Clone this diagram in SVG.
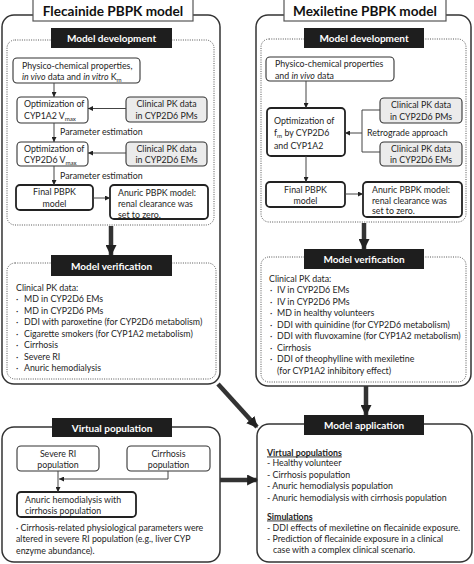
<svg xmlns="http://www.w3.org/2000/svg" width="474" height="564" viewBox="0 0 474 564">
<defs>
<style>
text{font-family:Lato,"Liberation Sans",sans-serif;fill:#1e1e1e;font-size:8.8px}
.title{font-size:13.6px;font-weight:bold;text-anchor:middle;fill:#111}
.hdr{font-size:10px;font-weight:bold;fill:#fff;text-anchor:middle}
.c{text-anchor:middle}
.outer{fill:#fff;stroke:#333;stroke-width:1.5}
.dot{fill:none;stroke:#555;stroke-width:1;stroke-dasharray:1 1.3}
.box{fill:#fff;stroke:#333;stroke-width:1.1}
.thick{fill:#fff;stroke:#222;stroke-width:1.8}
.gray{fill:#ebebeb;stroke:#333;stroke-width:1.1}
.hbox{fill:#1e1e1e}
.tbox{fill:#fff;stroke:#555;stroke-width:1.2}
.ln{fill:none;stroke:#444;stroke-width:1}
.big{fill:none;stroke:#333;stroke-width:4.5}
.bold{font-weight:bold}
</style>
<marker id="a" viewBox="0 0 10 10" refX="10" refY="5" markerWidth="5" markerHeight="5" markerUnits="userSpaceOnUse" orient="auto"><path d="M0,0 L10,5 L0,10 z" fill="#222"/></marker>
<marker id="b" viewBox="0 0 10 10" refX="9" refY="5" markerWidth="11" markerHeight="11" markerUnits="userSpaceOnUse" orient="auto"><path d="M0,0 L10,5 L0,10 z" fill="#222"/></marker>
</defs>
<rect width="474" height="564" fill="#fff"/>

<g id="flecainide-model">
<rect class="outer" x="2" y="15" width="218" height="369" rx="12"/>
<rect class="tbox" x="33" y="-1" width="160" height="22"/>
<text class="title" x="113" y="16">Flecainide PBPK model</text>
</g>

<g id="mexiletine-model">
<rect class="outer" x="256" y="15" width="215" height="371" rx="12"/>
<rect class="tbox" x="284" y="-1" width="162" height="22"/>
<text class="title" x="365" y="16">Mexiletine PBPK model</text>
</g>

<g id="flec-dev">
<rect class="dot" x="7" y="40" width="207" height="185" rx="8"/>
<rect class="hbox" x="51" y="28" width="121" height="20"/>
<text class="hdr" x="111.5" y="41.5">Model development</text>
</g>
<g id="flec-physico">
<rect class="box" x="13" y="58" width="127" height="25" rx="4"/>
<text x="22" y="68.5">Physico-chemical properties,</text>
<text x="22" y="80"><tspan font-style="italic">in vivo</tspan> data and <tspan font-style="italic">in vitro</tspan> K<tspan font-size="6.2" dy="2">m</tspan></text>
</g>
<g id="flec-opt1a2">
<rect class="box" x="17" y="97" width="71" height="26" rx="4"/>
<text x="24" y="107">Optimization of</text>
<text x="24" y="118.5">CYP1A2 V<tspan font-size="6.2" dy="2">max</tspan></text>
</g>
<g id="flec-pms">
<rect class="gray" x="126" y="97" width="81" height="25" rx="4"/>
<text class="c" x="166.5" y="107">Clinical PK data</text>
<text class="c" x="166.5" y="118.5">in CYP2D6 PMs</text>
</g>
<text x="60" y="135">Parameter estimation</text>
<g id="flec-opt2d6">
<rect class="box" x="17" y="142" width="71" height="24" rx="4"/>
<text x="24" y="151.5">Optimization of</text>
<text x="24" y="163">CYP2D6 V<tspan font-size="6.2" dy="2">max</tspan></text>
</g>
<g id="flec-ems">
<rect class="gray" x="126" y="142" width="81" height="24" rx="4"/>
<text class="c" x="166.5" y="151.5">Clinical PK data</text>
<text class="c" x="166.5" y="163">in CYP2D6 EMs</text>
</g>
<text x="60" y="179">Parameter estimation</text>
<g id="flec-final">
<rect class="thick" x="16" y="185" width="77" height="25" rx="4"/>
<text class="c" x="54.5" y="195">Final PBPK</text>
<text class="c" x="54.5" y="206.5">model</text>
</g>
<g id="flec-anuric">
<rect class="thick" x="110" y="185" width="98" height="34" rx="4"/>
<text x="118" y="195.5">Anuric PBPK model:</text>
<text x="118" y="206.5">renal clearance was</text>
<text x="118" y="217.5">set to zero.</text>
</g>

<g id="flec-verif">
<rect class="dot" x="7" y="263" width="209" height="116" rx="8"/>
<rect class="hbox" x="51" y="255" width="121" height="21"/>
<text class="hdr" x="111.5" y="269.5">Model verification</text>
<text x="16" y="290.5">Clinical PK data:</text>
<text x="16" y="302">· <tspan x="24">MD in CYP2D6 EMs</tspan></text>
<text x="16" y="313.5">· <tspan x="24">MD in CYP2D6 PMs</tspan></text>
<text x="16" y="325">· <tspan x="24">DDI with paroxetine (for CYP2D6 metabolism)</tspan></text>
<text x="16" y="336.5">· <tspan x="24">Cigarette smokers (for CYP1A2 metabolism)</tspan></text>
<text x="16" y="348">· <tspan x="24">Cirrhosis</tspan></text>
<text x="16" y="359.5">· <tspan x="24">Severe RI</tspan></text>
<text x="16" y="371">· <tspan x="24">Anuric hemodialysis</tspan></text>
</g>

<g id="mex-dev">
<rect class="dot" x="261" y="39" width="205" height="183" rx="8"/>
<rect class="hbox" x="304" y="28" width="120" height="20"/>
<text class="hdr" x="364" y="41.5">Model development</text>
</g>
<g id="mex-physico">
<rect class="box" x="266" y="57" width="128" height="24" rx="4"/>
<text x="275" y="67">Physico-chemical properties</text>
<text x="275" y="78.5">and <tspan font-style="italic">in vivo</tspan> data</text>
</g>
<g id="mex-opt">
<rect class="thick" x="267" y="108" width="78" height="48" rx="4"/>
<text x="274" y="123.5">Optimization of</text>
<text x="274" y="136">f<tspan font-size="6.2" dy="2">m</tspan><tspan dy="-2"> by CYP2D6</tspan></text>
<text x="274" y="148.5">and CYP1A2</text>
</g>
<g id="mex-pms">
<rect class="gray" x="380" y="98" width="82" height="25" rx="4"/>
<text class="c" x="421" y="108">Clinical PK data</text>
<text class="c" x="421" y="119.5">in CYP2D6 PMs</text>
</g>
<text x="367" y="136">Retrograde approach</text>
<g id="mex-ems">
<rect class="gray" x="380" y="142" width="82" height="24" rx="4"/>
<text class="c" x="421" y="151.5">Clinical PK data</text>
<text class="c" x="421" y="163">in CYP2D6 EMs</text>
</g>
<g id="mex-final">
<rect class="thick" x="266" y="182" width="79" height="25" rx="4"/>
<text class="c" x="305.5" y="192.5">Final PBPK</text>
<text class="c" x="305.5" y="204">model</text>
</g>
<g id="mex-anuric">
<rect class="thick" x="363" y="182" width="99" height="35" rx="4"/>
<text x="372" y="193">Anuric PBPK model:</text>
<text x="372" y="203.5">renal clearance was</text>
<text x="372" y="214">set to zero.</text>
</g>

<g id="mex-verif">
<rect class="dot" x="261" y="257" width="205" height="125" rx="8"/>
<rect class="hbox" x="304" y="249" width="120" height="20"/>
<text class="hdr" x="364" y="263">Model verification</text>
<text x="269" y="281.5">Clinical PK data:</text>
<text x="270" y="293">· <tspan x="277">IV in CYP2D6 EMs</tspan></text>
<text x="270" y="304.5">· <tspan x="277">IV in CYP2D6 PMs</tspan></text>
<text x="270" y="316">· <tspan x="277">MD in healthy volunteers</tspan></text>
<text x="270" y="327.5">· <tspan x="277">DDI with quinidine (for CYP2D6 metabolism)</tspan></text>
<text x="270" y="339">· <tspan x="277">DDI with fluvoxamine (for CYP1A2 metabolism)</tspan></text>
<text x="270" y="350.5">· <tspan x="277">Cirrhosis</tspan></text>
<text x="270" y="362">· <tspan x="277">DDI of theophylline with mexiletine</tspan></text>
<text x="277" y="373.5">(for CYP1A2 inhibitory effect)</text>
</g>

<g id="virtual-population">
<rect class="outer" x="2" y="427" width="218" height="135" rx="12"/>
<rect class="hbox" x="52" y="418" width="120" height="19"/>
<text class="hdr" x="112" y="431.5">Virtual population</text>
<text x="16" y="530.5">· Cirrhosis-related physiological parameters were</text>
<text x="16" y="542">altered in severe RI population (e.g., liver CYP</text>
<text x="16" y="553.5">enzyme abundance).</text>
</g>
<g id="vp-severe">
<rect class="box" x="17" y="446" width="82" height="25" rx="4"/>
<text class="c" x="58" y="456.5">Severe RI</text>
<text class="c" x="58" y="468">population</text>
</g>
<g id="vp-cirrhosis">
<rect class="box" x="127" y="446" width="83" height="25" rx="4"/>
<text class="c" x="168.5" y="456.5">Cirrhosis</text>
<text class="c" x="168.5" y="468">population</text>
</g>
<g id="vp-anuric">
<rect class="thick" x="17" y="492" width="119" height="25" rx="4"/>
<text x="25" y="502.5">Anuric hemodialysis with</text>
<text x="25" y="513.5">cirrhosis population</text>
</g>

<g id="model-application">
<rect class="outer" x="257" y="424" width="215" height="138" rx="12"/>
<rect class="hbox" x="304" y="415" width="120" height="20"/>
<text class="hdr" x="364" y="428.5">Model application</text>
<text x="267" y="455.5" class="bold" text-decoration="underline">Virtual populations</text>
<text x="267" y="466">- Healthy volunteer</text>
<text x="267" y="477.5">- Cirrhosis population</text>
<text x="267" y="489">- Anuric hemodialysis population</text>
<text x="267" y="500.5">- Anuric hemodialysis with cirrhosis population</text>
<text x="267" y="519.5" class="bold" text-decoration="underline">Simulations</text>
<text x="267" y="530.5">- DDI effects of mexiletine on flecainide exposure.</text>
<text x="267" y="541.5">- Prediction of flecainide exposure in a clinical</text>
<text x="273" y="552.5">case with a complex clinical scenario.</text>
</g>

<g id="connectors">
<path class="ln" d="M54,83 V97" marker-end="url(#a)"/>
<path class="ln" d="M126,108.5 H88" marker-end="url(#a)"/>
<path class="ln" d="M54,123 V142" marker-end="url(#a)"/>
<path class="ln" d="M126,153 H88" marker-end="url(#a)"/>
<path class="ln" d="M54,166 V185" marker-end="url(#a)"/>
<path class="ln" d="M93,198 H110" marker-end="url(#a)"/>
<path class="ln" d="M306,81 V108" marker-end="url(#a)"/>
<path class="ln" d="M380,110 H362 V152 H380"/>
<path class="ln" d="M362,133 H345" marker-end="url(#a)"/>
<path class="ln" d="M306,156 V182" marker-end="url(#a)"/>
<path class="ln" d="M345,194 H363" marker-end="url(#a)"/>
<path class="ln" d="M58,471 V492" marker-end="url(#a)"/>
<path class="ln" d="M168,471 V479 H59" marker-end="url(#a)"/>
<path class="big" d="M111,226 V255" marker-end="url(#b)"/>
<path class="big" d="M364,223 V249" marker-end="url(#b)"/>
<path class="big" d="M366,386 V415" marker-end="url(#b)"/>
<path class="big" d="M218,384 L257,427" marker-end="url(#b)"/>
<path class="big" d="M220,480 H257" marker-end="url(#b)"/>
</g>
</svg>
